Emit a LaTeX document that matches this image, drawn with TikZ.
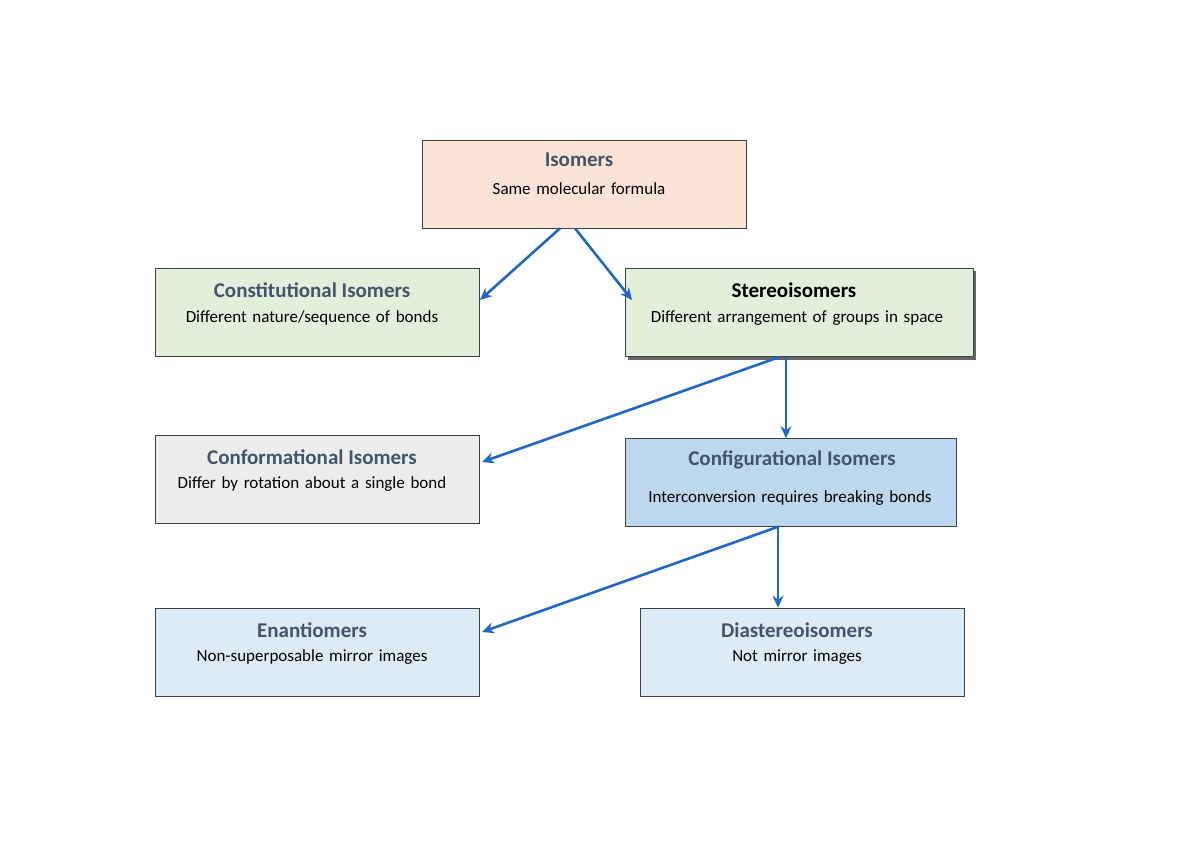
\documentclass[tikz,border=0pt]{standalone}
\usepackage{fontspec}
\setmainfont{Carlito}
\usetikzlibrary{arrows.meta}
\definecolor{ttl}{HTML}{44546A}
\definecolor{arr}{HTML}{1F66C8}
\definecolor{peach}{HTML}{FBE3D6}
\definecolor{grn}{HTML}{E2EFDA}
\definecolor{gry}{HTML}{EDEDED}
\definecolor{blu}{HTML}{BDD7EE}
\definecolor{lblu}{HTML}{DDEBF7}
\begin{document}
\begin{tikzpicture}[x=1pt,y=-1pt,
  box/.style={draw=black!75,line width=0.6pt,minimum height=88pt,inner sep=0pt},
  ttlt/.style={font=\fontsize{21}{24}\selectfont\bfseries,text=ttl,inner sep=0pt},
  bod/.style={font=\fontsize{17}{24}\selectfont,align=center,inner sep=0pt,text width=320pt},
  ar/.style={draw=arr,line width=2.6pt,-{Stealth[length=12pt,width=11pt]}}]
\useasboundingbox (0,0) rectangle (1200,848);
\node[box,fill=peach,minimum width=324pt] (iso) at (584,184) {};
\node[ttlt] (isot) at (579,160) {Isomers};
\node[bod] (isob) at (579,189) {Same molecular formula};
\node[box,fill=grn,minimum width=324pt] (con) at (317,312.5) {};
\node[ttlt] (cont) at (312,290) {Constitutional Isomers};
\node[bod] (conb) at (312,318) {Different nature/sequence of bonds};
\fill[black!60] (628,271) rectangle (976,360);
\node[box,fill=grn,minimum width=348pt] (ste) at (799,312.5) {};
\node[ttlt,text=black] (stet) at (794,290) {Stereoisomers};
\node[bod,text width=360pt] (steb) at (797,318) {Different arrangement of groups in space};
\node[box,fill=gry,minimum width=324pt] (cnf) at (317,479) {};
\node[ttlt] (cnft) at (312,457) {Conformational Isomers};
\node[bod] (cnfb) at (312,484) {Differ by rotation about a single bond};
\node[box,fill=blu,minimum width=331pt] (cfg) at (790.5,482.5) {};
\node[ttlt] (cfgt) at (792,460) {Configurational Isomers};
\node[bod,text width=300pt] (cfgb) at (790,498) {Interconversion requires breaking bonds};
\node[box,fill=lblu,minimum width=324pt] (ena) at (317,652) {};
\node[ttlt] (enat) at (312,630) {Enantiomers};
\node[bod] (enab) at (312,657) {Non-superposable mirror images};
\node[box,fill=lblu,minimum width=324pt] (dia) at (802,652) {};
\node[ttlt] (diat) at (797,630) {Diastereoisomers};
\node[bod] (diab) at (797,657) {Not mirror images};
\coordinate (a1) at (480,300);
\coordinate (a2) at (632,300);
\coordinate (a3) at (482,462);
\coordinate (a5) at (482,632);
\draw[ar] ([xshift=-24pt]iso.south) -- (a1);
\draw[ar] ([xshift=-9pt]iso.south) -- (a2);
\draw[ar] ([xshift=-19pt]ste.south) -- (a3);
\draw[ar] ([xshift=-13pt]ste.south) -- ([xshift=-4.5pt]cfg.north);
\draw[ar] ([xshift=-12.5pt]cfg.south) -- (a5);
\draw[ar] ([xshift=-12.5pt]cfg.south) -- ([xshift=-24pt]dia.north);
\end{tikzpicture}
\end{document}
